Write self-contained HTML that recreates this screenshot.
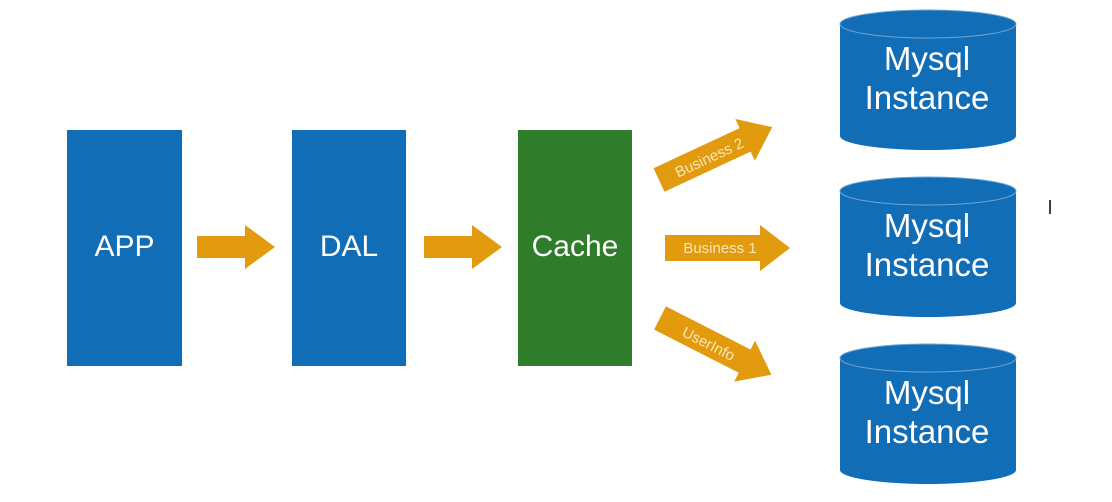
<!DOCTYPE html>
<html><head><style>html,body{margin:0;padding:0;background:#fff}svg{display:block}</style></head>
<body>
<svg width="1112" height="502" viewBox="0 0 1112 502" xmlns="http://www.w3.org/2000/svg" font-family="Liberation Sans, sans-serif">
<defs>
<g id="arr"><polygon points="0,-11 48,-11 48,-22 78,0 48,22 48,11 0,11" fill="#e29a0e"/></g>
<g id="arrL"><polygon points="0,-13 95,-13 95,-23 125,0 95,23 95,13 0,13" fill="#e29a0e"/></g>
</defs>
<rect x="67" y="130" width="115" height="236" fill="#106db6"/>
<text x="124.5" y="256" font-size="30" fill="#fff" text-anchor="middle">APP</text>
<rect x="292" y="130" width="114" height="236" fill="#106db6"/>
<text x="349" y="256" font-size="30" fill="#fff" text-anchor="middle">DAL</text>
<rect x="518" y="130" width="114" height="236" fill="#2f7c2a"/>
<text x="575" y="256" font-size="30" fill="#fff" text-anchor="middle">Cache</text>
<use href="#arr" x="197" y="247"/>
<use href="#arr" x="424" y="247"/>
<g transform="translate(659,180) rotate(-25)"><use href="#arrL"/><text x="55" y="6" font-size="15" fill="#fbe7b8" text-anchor="middle">Business 2</text></g>
<g transform="translate(665,248)"><use href="#arrL"/><text x="55" y="5" font-size="15" fill="#fbe7b8" text-anchor="middle">Business 1</text></g>
<g transform="translate(660,318) rotate(27)"><use href="#arrL"/><text x="55" y="6" font-size="15" fill="#fbe7b8" text-anchor="middle">UserInfo</text></g>
<g id="cyl">
<path d="M840,24 L840,136 A88,14 0 0 0 1016,136 L1016,24 Z" fill="#106db6"/>
<ellipse cx="928" cy="24" rx="88" ry="14" fill="#106db6" stroke="#6fa6d6" stroke-width="1"/>
<text x="927" y="70" font-size="33" fill="#fff" text-anchor="middle">Mysql</text>
<text x="927" y="109" font-size="33" fill="#fff" text-anchor="middle">Instance</text>
</g>
<use href="#cyl" y="167"/>
<use href="#cyl" y="334"/>
<text x="1050" y="214" font-size="20" fill="#333" text-anchor="middle">I</text>
</svg>
</body></html>
